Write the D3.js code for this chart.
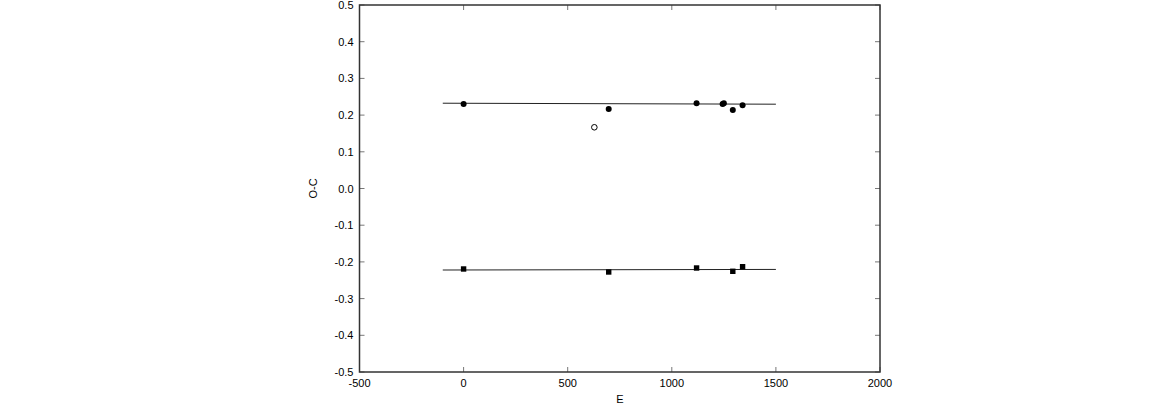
<!DOCTYPE html>
<html><head><meta charset="utf-8">
<script src="https://cdn.jsdelivr.net/npm/d3@7"></script>
<style>body{margin:0;background:#fff}svg{display:block}text{font-family:"Liberation Sans",Arial,sans-serif;font-size:11px;fill:#000}</style>
</head><body><svg id="c" width="1150" height="409"></svg>
<script>
const xTicks = [-500, 0, 500, 1000, 1500, 2000];
const yTicks = [0.5, 0.4, 0.3, 0.2, 0.1, 0.0, -0.1, -0.2, -0.3, -0.4, -0.5];
const primE = [0, 697, 1119, 1244, 1250, 1293, 1340];
const primOC = [0.2302, 0.2166, 0.2322, 0.2300, 0.2322, 0.2139, 0.2267];
const primOpenE = [628];
const primOpenOC = [0.1668];
const secE = [0, 697, 1119, 1293, 1340];
const secOC = [-0.2193, -0.2275, -0.2166, -0.2256, -0.2131];
const fitE = [-100, 1500];
const fitPrim = [0.2324, 0.2297];
const fitSec = [-0.2221, -0.2205];

const svg = d3.select("#c");
const L = 359.5, R = 880, T = 5, B = 372;
const x = d3.scaleLinear().domain([-500, 2000]).range([L, R]);
const y = d3.scaleLinear().domain([-0.5, 0.5]).range([B, T]);

// ticks (inner)
const tk = svg.append("g").attr("stroke", "#777").attr("stroke-width", 1);
xTicks.forEach(v => {
  tk.append("line").attr("x1", x(v)).attr("x2", x(v)).attr("y1", B).attr("y2", B - 5);
  tk.append("line").attr("x1", x(v)).attr("x2", x(v)).attr("y1", T).attr("y2", T + 5);
});
yTicks.forEach(v => {
  tk.append("line").attr("x1", L).attr("x2", L + 5).attr("y1", y(v)).attr("y2", y(v));
  tk.append("line").attr("x1", R).attr("x2", R - 5).attr("y1", y(v)).attr("y2", y(v));
});
// frame
svg.append("rect").attr("x", L).attr("y", T).attr("width", R - L).attr("height", B - T)
  .attr("fill", "none").attr("stroke", "#333").attr("stroke-width", 1.5);

// labels
const fmtY = d3.formatLocale({decimal: ".", thousands: ",", grouping: [3], currency: ["", ""], minus: "-"}).format(".1f");
svg.append("g").selectAll("text").data(xTicks).join("text")
  .attr("x", d => x(d)).attr("y", B + 15).attr("text-anchor", "middle").text(d => String(d));
svg.append("g").selectAll("text").data(yTicks).join("text")
  .attr("x", L - 6).attr("y", d => y(d) + 4).attr("text-anchor", "end").text(d => fmtY(d));
svg.append("text").attr("x", 620).attr("y", 403).attr("text-anchor", "middle").text("E");
svg.append("text").attr("transform", `translate(317,${y(0)}) rotate(-90)`).attr("text-anchor", "middle").text("O-C");

// fit lines
const ln = d3.line().x(d => x(d[0])).y(d => y(d[1]));
svg.append("path").attr("d", ln(fitE.map((e, i) => [e, fitPrim[i]]))).attr("stroke", "#222").attr("fill", "none").attr("stroke-width", 1);
svg.append("path").attr("d", ln(fitE.map((e, i) => [e, fitSec[i]]))).attr("stroke", "#222").attr("fill", "none").attr("stroke-width", 1);

// points
svg.append("g").selectAll("circle").data(primE.map((e, i) => [e, primOC[i]])).join("circle")
  .attr("cx", d => x(d[0])).attr("cy", d => y(d[1])).attr("r", 3).attr("fill", "#000");
svg.append("g").selectAll("circle").data(primOpenE.map((e, i) => [e, primOpenOC[i]])).join("circle")
  .attr("cx", d => x(d[0])).attr("cy", d => y(d[1])).attr("r", 2.8).attr("fill", "#fff").attr("stroke", "#000").attr("stroke-width", 1);
svg.append("g").selectAll("rect").data(secE.map((e, i) => [e, secOC[i]])).join("rect")
  .attr("x", d => x(d[0]) - 2.7).attr("y", d => y(d[1]) - 2.7).attr("width", 5.4).attr("height", 5.4).attr("fill", "#000");
</script></body></html>
